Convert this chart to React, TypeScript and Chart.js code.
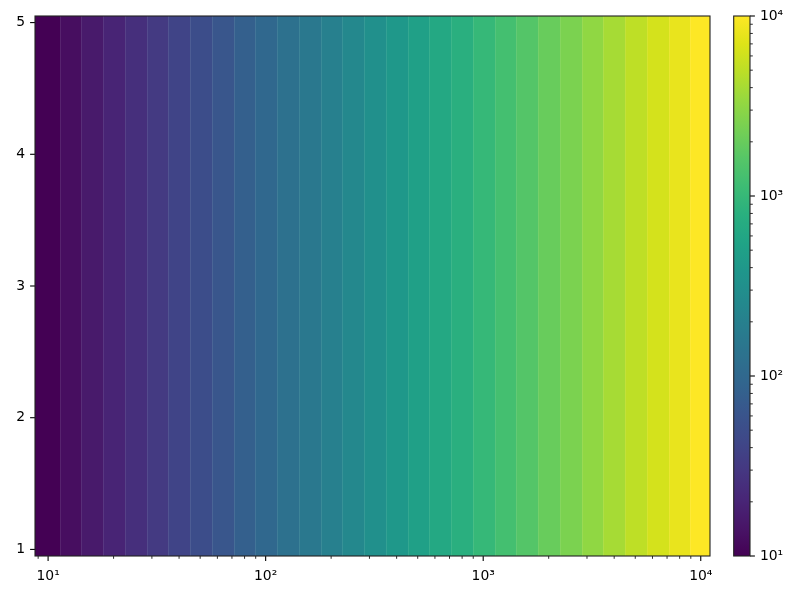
import React, { useEffect, useRef } from 'react';
import { Chart, registerables } from 'chart.js';

Chart.register(...registerables);

// ---- data ----
const xCenters = [
  10, 12.589, 15.849, 19.953, 25.119, 31.623, 39.811, 50.119, 63.096, 79.433,
  100, 125.89, 158.49, 199.53, 251.19, 316.23, 398.11, 501.19, 630.96, 794.33,
  1000, 1258.9, 1584.9, 1995.3, 2511.9, 3162.3, 3981.1, 5011.9, 6309.6, 7943.3,
  10000,
];
const yCenters = [
  1.0, 1.1, 1.2, 1.3, 1.4, 1.5, 1.6, 1.7, 1.8, 1.9,
  2.0, 2.1, 2.2, 2.3, 2.4, 2.5, 2.6, 2.7, 2.8, 2.9,
  3.0, 3.1, 3.2, 3.3, 3.4, 3.5, 3.6, 3.7, 3.8, 3.9,
  4.0, 4.1, 4.2, 4.3, 4.4, 4.5, 4.6, 4.7, 4.8, 4.9,
  5.0,
];
// value of every cell in each column (constant down a column)
const columnValues = [
  10, 12.589, 15.849, 19.953, 25.119, 31.623, 39.811, 50.119, 63.096, 79.433,
  100, 125.89, 158.49, 199.53, 251.19, 316.23, 398.11, 501.19, 630.96, 794.33,
  1000, 1258.9, 1584.9, 1995.3, 2511.9, 3162.3, 3981.1, 5011.9, 6309.6, 7943.3,
  10000,
];
const xMajorTicks = [10, 100, 1000, 10000];
const xMajorLabels = ['10¹', '10²', '10³', '10⁴'];
const xMinorTicks = [
  9, 20, 30, 40, 50, 60, 70, 80, 90,
  200, 300, 400, 500, 600, 700, 800, 900,
  2000, 3000, 4000, 5000, 6000, 7000, 8000, 9000,
];
const yTicks = [1, 2, 3, 4, 5];
const yLabels = ['1', '2', '3', '4', '5'];
const cbMin = 10;
const cbMax = 10000;
const cbMajorTicks = [10, 100, 1000, 10000];
const cbMajorLabels = ['10¹', '10²', '10³', '10⁴'];
const cbMinorTicks = [
  20, 30, 40, 50, 60, 70, 80, 90,
  200, 300, 400, 500, 600, 700, 800, 900,
  2000, 3000, 4000, 5000, 6000, 7000, 8000, 9000,
];

// viridis colormap stops
const viridisStops = [
  '#440154', '#481567', '#482677', '#453781', '#3f4788', '#39558c', '#32648e',
  '#2d718e', '#287d8e', '#238a8d', '#1f968b', '#20a386', '#29af7f', '#3dbc74',
  '#56c667', '#75d054', '#95d840', '#bade28', '#dde318', '#fde725',
];

const FONT = 'DejaVu Sans';
const FONT_SIZE = 13.9;

function hexToRgb(h: string) {
  return [parseInt(h.slice(1, 3), 16), parseInt(h.slice(3, 5), 16), parseInt(h.slice(5, 7), 16)];
}
function viridis(t: number) {
  const n = viridisStops.length;
  const tt = Math.max(0, Math.min(1, t));
  const s = tt * (n - 1);
  const k = Math.min(n - 2, Math.floor(s));
  const f = s - k;
  const a = hexToRgb(viridisStops[k]);
  const b = hexToRgb(viridisStops[k + 1]);
  const c = a.map((v, i) => Math.round(v + (b[i] - v) * f));
  return `rgb(${c[0]},${c[1]},${c[2]})`;
}
function logNorm(v: number) {
  return (Math.log10(v) - Math.log10(cbMin)) / (Math.log10(cbMax) - Math.log10(cbMin));
}
// cell edges: midpoints between centers, ends extrapolated (like shading='auto')
function edges(c: number[]) {
  const e: number[] = [];
  e.push(c[0] - (c[1] - c[0]) / 2);
  for (let i = 0; i < c.length - 1; i++) e.push((c[i] + c[i + 1]) / 2);
  e.push(c[c.length - 1] + (c[c.length - 1] - c[c.length - 2]) / 2);
  return e;
}
const xEdges = edges(xCenters);
const yEdges = edges(yCenters);

const MAJOR_LEN = 4.9;
const MINOR_LEN = 2.8;
const MAJOR_W = 1.1;
const MINOR_W = 0.83;

function tick(ctx: CanvasRenderingContext2D, x0: number, y0: number, x1: number, y1: number, w: number) {
  ctx.beginPath();
  ctx.lineWidth = w;
  ctx.moveTo(x0, y0);
  ctx.lineTo(x1, y1);
  ctx.stroke();
}

const heatmapPlugin = {
  id: 'heatmap',
  beforeDatasetsDraw(chart: any) {
    const { ctx, scales, chartArea } = chart;
    const xs = scales.x;
    const ys = scales.y;
    ctx.save();
    for (let i = 0; i < columnValues.length; i++) {
      const x0 = Math.round(xs.getPixelForValue(xEdges[i]));
      const x1 = Math.round(xs.getPixelForValue(xEdges[i + 1]));
      ctx.fillStyle = viridis(logNorm(columnValues[i]));
      for (let j = 0; j < yCenters.length; j++) {
        const y0 = Math.round(ys.getPixelForValue(yEdges[j]));
        const y1 = Math.round(ys.getPixelForValue(yEdges[j + 1]));
        ctx.fillRect(x0, y1, x1 - x0, y0 - y1);
      }
    }
    // faint rendering seams at column boundaries
    ctx.fillStyle = 'rgba(255,255,255,0.09)';
    for (let i = 1; i < xEdges.length - 1; i++) {
      const px = Math.round(xs.getPixelForValue(xEdges[i]));
      ctx.fillRect(px, chartArea.top, 1, chartArea.bottom - chartArea.top);
    }
    ctx.restore();
  },
  afterDraw(chart: any) {
    const { ctx, chartArea, scales } = chart;
    const xs = scales.x;
    const ys = scales.y;
    ctx.save();
    ctx.strokeStyle = '#000';
    xMajorTicks.forEach((v) => {
      const p = xs.getPixelForValue(v);
      tick(ctx, p, chartArea.bottom, p, chartArea.bottom + MAJOR_LEN, MAJOR_W);
    });
    xMinorTicks.forEach((v) => {
      const p = xs.getPixelForValue(v);
      tick(ctx, p, chartArea.bottom, p, chartArea.bottom + MINOR_LEN, MINOR_W);
    });
    yTicks.forEach((v) => {
      const p = ys.getPixelForValue(v);
      tick(ctx, chartArea.left, p, chartArea.left - MAJOR_LEN, p, MAJOR_W);
    });
    ctx.lineWidth = 1.1;
    ctx.strokeStyle = '#222';
    ctx.strokeRect(chartArea.left, chartArea.top, chartArea.right - chartArea.left, chartArea.bottom - chartArea.top);
    ctx.restore();
  },
};

const colorbarPlugin = {
  id: 'colorbar',
  beforeDatasetsDraw(chart: any) {
    const { ctx, chartArea, scales } = chart;
    const ys = scales.y;
    const yb = ys.getPixelForValue(cbMin);
    const yt = ys.getPixelForValue(cbMax);
    const g = ctx.createLinearGradient(0, yb, 0, yt);
    viridisStops.forEach((c, k) => g.addColorStop(k / (viridisStops.length - 1), c));
    ctx.save();
    ctx.fillStyle = g;
    ctx.fillRect(chartArea.left, yt, chartArea.right - chartArea.left, yb - yt);
    ctx.restore();
  },
  afterDraw(chart: any) {
    const { ctx, chartArea, scales } = chart;
    const ys = scales.y;
    ctx.save();
    ctx.strokeStyle = '#000';
    cbMajorTicks.forEach((v) => {
      const p = ys.getPixelForValue(v);
      tick(ctx, chartArea.right, p, chartArea.right + MAJOR_LEN, p, MAJOR_W);
    });
    cbMinorTicks.forEach((v) => {
      const p = ys.getPixelForValue(v);
      tick(ctx, chartArea.right, p, chartArea.right + MINOR_LEN, p, MINOR_W);
    });
    ctx.lineWidth = 1.1;
    ctx.strokeStyle = '#222';
    ctx.strokeRect(chartArea.left, chartArea.top, chartArea.right - chartArea.left, chartArea.bottom - chartArea.top);
    ctx.restore();
  },
};

const hiddenGrid = {
  display: true,
  drawOnChartArea: false,
  drawTicks: true,
  tickLength: MAJOR_LEN,
  color: 'rgba(0,0,0,0)',
};

export default function App() {
  const mainRef = useRef<HTMLCanvasElement>(null);
  const cbRef = useRef<HTMLCanvasElement>(null);

  useEffect(() => {
    document.body.style.margin = '0';
    Chart.defaults.font.family = FONT;
    Chart.defaults.font.size = FONT_SIZE;
    Chart.defaults.color = '#000';

    const main = new Chart(mainRef.current as HTMLCanvasElement, {
      type: 'scatter',
      data: { datasets: [{ data: [], pointRadius: 0 }] },
      options: {
        responsive: false,
        animation: false,
        events: [],
        layout: { padding: { top: 16, right: 90, left: 0, bottom: 0 } },
        plugins: { legend: { display: false }, tooltip: { enabled: false } },
        scales: {
          x: {
            type: 'logarithmic',
            min: xEdges[0],
            max: xEdges[xEdges.length - 1],
            border: { display: false },
            grid: hiddenGrid as any,
            afterFit: (s: any) => { s.height = 44; },
            afterBuildTicks: (s: any) => { s.ticks = xMajorTicks.map((v) => ({ value: v })); },
            ticks: {
              autoSkip: false,
              maxRotation: 0,
              padding: 7,
              font: { family: FONT, size: FONT_SIZE },
              color: '#000',
              callback: (v: any) => {
                const i = xMajorTicks.indexOf(Number(v));
                return i >= 0 ? xMajorLabels[i] : '';
              },
            },
          },
          y: {
            type: 'linear',
            min: yEdges[0],
            max: yEdges[yEdges.length - 1],
            border: { display: false },
            grid: hiddenGrid as any,
            afterFit: (s: any) => { s.width = 35; },
            afterBuildTicks: (s: any) => { s.ticks = yTicks.map((v) => ({ value: v })); },
            ticks: {
              autoSkip: false,
              padding: 5,
              font: { family: FONT, size: FONT_SIZE },
              color: '#000',
              callback: (v: any) => {
                const i = yTicks.indexOf(Number(v));
                return i >= 0 ? yLabels[i] : '';
              },
            },
          },
        },
      },
      plugins: [heatmapPlugin],
    } as any);

    const cb = new Chart(cbRef.current as HTMLCanvasElement, {
      type: 'scatter',
      data: { datasets: [{ data: [], pointRadius: 0 }] },
      options: {
        responsive: false,
        animation: false,
        events: [],
        layout: { padding: { top: 16, right: 0, left: 33.7, bottom: 44 } },
        plugins: { legend: { display: false }, tooltip: { enabled: false } },
        scales: {
          x: { type: 'linear', display: false, min: 0, max: 1 },
          y: {
            type: 'logarithmic',
            position: 'right',
            min: cbMin,
            max: cbMax,
            border: { display: false },
            grid: hiddenGrid as any,
            afterFit: (s: any) => { s.width = 50; },
            afterBuildTicks: (s: any) => { s.ticks = cbMajorTicks.map((v) => ({ value: v })); },
            ticks: {
              autoSkip: false,
              padding: 5,
              font: { family: FONT, size: FONT_SIZE },
              color: '#000',
              callback: (v: any) => {
                const i = cbMajorTicks.indexOf(Number(v));
                return i >= 0 ? cbMajorLabels[i] : '';
              },
            },
          },
        },
      },
      plugins: [colorbarPlugin],
    } as any);

    return () => {
      main.destroy();
      cb.destroy();
    };
  }, []);

  return (
    <div style={{ position: 'relative', width: 800, height: 600, background: '#fff' }}>
      <canvas ref={mainRef} width={800} height={600} style={{ position: 'absolute', left: 0, top: 0, width: 800, height: 600 }} />
      <canvas ref={cbRef} width={100} height={600} style={{ position: 'absolute', left: 700, top: 0, width: 100, height: 600 }} />
    </div>
  );
}
